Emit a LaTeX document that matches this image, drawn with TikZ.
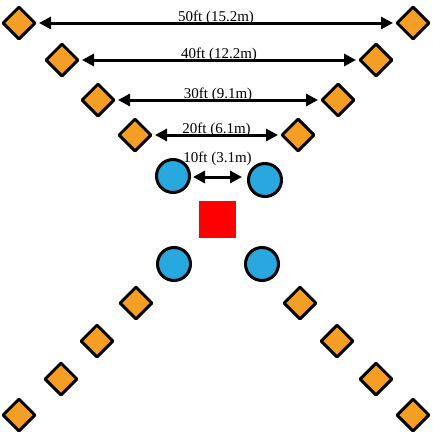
\documentclass[tikz,border=0pt]{standalone}
\usepackage{fontspec}
\setmainfont{Liberation Serif}
\usetikzlibrary{shapes.geometric,arrows.meta}
\definecolor{coneorange}{RGB}{245,158,38}
\definecolor{ballblue}{RGB}{41,168,224}
\tikzset{
  cone/.style={diamond, draw=black, line width=3pt, fill=coneorange, minimum size=33pt, inner sep=0pt},
  ball/.style={circle, draw=black, line width=3pt, fill=ballblue, minimum size=33pt, inner sep=0pt},
  gap/.style={<->, line width=3pt, shorten >=2pt, shorten <=2pt},
}
\begin{document}
\begin{tikzpicture}[x=1pt, y=-1pt, >={Triangle[length=12pt,width=12pt]}, font=\fontsize{15}{17}\selectfont, line join=round]
\useasboundingbox (0,0) rectangle (432,434);
% cones: left / right column
\foreach \i/\xl/\xr/\y in {1/19/413/23, 2/62/376/60, 3/98/338/100, 4/135/298/135,
  5/136/300/303, 6/97/337/341, 7/61/376/379, 8/19/413/415}{
  \node[cone] (l\i) at (\xl,\y) {};
  \node[cone] (r\i) at (\xr,\y) {};
}
\foreach \i/\txt in {1/50ft (15.2m), 2/40ft (12.2m), 3/30ft (9.1m), 4/20ft (6.1m)}
  \draw[gap] (l\i) -- (r\i) node[midway, anchor=base, yshift=2pt]{\txt};
\node[ball] (b1) at (173,176) {};
\node[ball] (b2) at (265,180) {};
\node[ball] (b3) at (174,264) {};
\node[ball] (b4) at (262,264) {};
\node[fill=red, minimum size=37pt, inner sep=0pt] (box) at (217,219) {};
\coordinate (a1) at (193,177);
\coordinate (a2) at (242,177);
\draw[<->, line width=3pt] (a1) -- (a2) node[midway, anchor=base, yshift=15pt]{10ft (3.1m)};
\end{tikzpicture}
\end{document}
